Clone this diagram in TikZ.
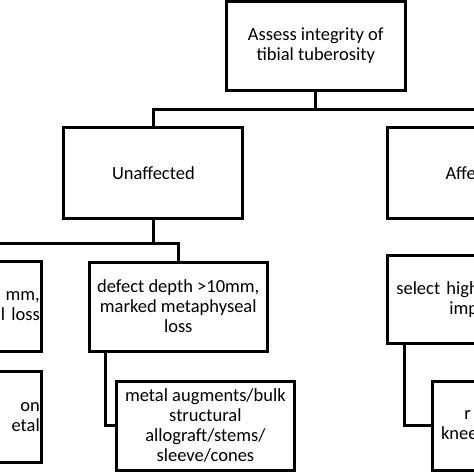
\documentclass[tikz,border=0pt]{standalone}
\usepackage{fontspec}
\setmainfont{Carlito}
\usetikzlibrary{positioning, calc}
\tikzset{
    base/.style={draw=black, line width=3pt, font=\fontsize{18.5}{20}\selectfont, align=center, inner sep=2pt},
    block/.style={base, rectangle, minimum width=179pt, minimum height=89pt},
    cutright/.style={block, text width=175pt, align=right},
    cutleft/.style={block, text width=175pt, align=left},
    line/.style={draw=black, line width=3pt}
}

\begin{document}
\begin{tikzpicture}[x=1pt, y=-1pt]
    \useasboundingbox (0,0) rectangle (474,474);
    \clip (0,0) rectangle (474,474);

    \node [block] (Assess) at (315.75,45.5) {Assess integrity of\\tibial tuberosity};
    \node [block, minimum height=90.5pt] (Unaffected) at (153.4,173) {Unaffected};
    \node [block, minimum height=90.5pt] (Affected) at (477,173) {Affected};

    \node [cutright, minimum height=90pt] (Minor) at (-47.7,306) {\mbox{mm,}\hspace*{3pt}\\\mbox{l loss}};
    \node [cutright, minimum height=90.5pt] (MinorFix) at (-47.7,417) {\mbox{on}\hspace*{19pt}\\\mbox{etal}\hspace*{8pt}};
    \node [block, minimum width=178.5pt] (Defect) at (178.25,306.5) {defect depth >10mm,\\marked metaphyseal\\loss};
    \node [block, minimum width=177.3pt] (Augment) at (205.4,425.5) {metal augments/bulk\\structural\\allograft/stems/\\sleeve/cones};

    \node [cutleft, minimum height=88.3pt] (Select) at (476.8,299.2) {\hspace*{7pt}\mbox{select high}\\\hspace*{60pt}\mbox{imp}};
    \node [cutleft] (Hinge) at (521.8,425.5) {\hspace*{30pt}\mbox{r}\\\hspace*{6.7pt}\mbox{knee}};

    \draw [line] (Assess.south) -- ++(0,18) coordinate (AssessJoin);
    \draw [line] (AssessJoin) -| (Unaffected.north);
    \draw [line] (AssessJoin) -| (Affected.north);
    \draw [line] (Unaffected.south) -- ++(0,24) coordinate (UnaffJoin);
    \draw [line] (UnaffJoin) -| (Minor.north);
    \draw [line] (UnaffJoin) -| (Defect.north);
    \draw [line] ([xshift=18.3pt]Defect.south west) |- (Augment.west);
    \draw [line] ([xshift=18.4pt]Select.south west) |- (Hinge.west);
\end{tikzpicture}
\end{document}
